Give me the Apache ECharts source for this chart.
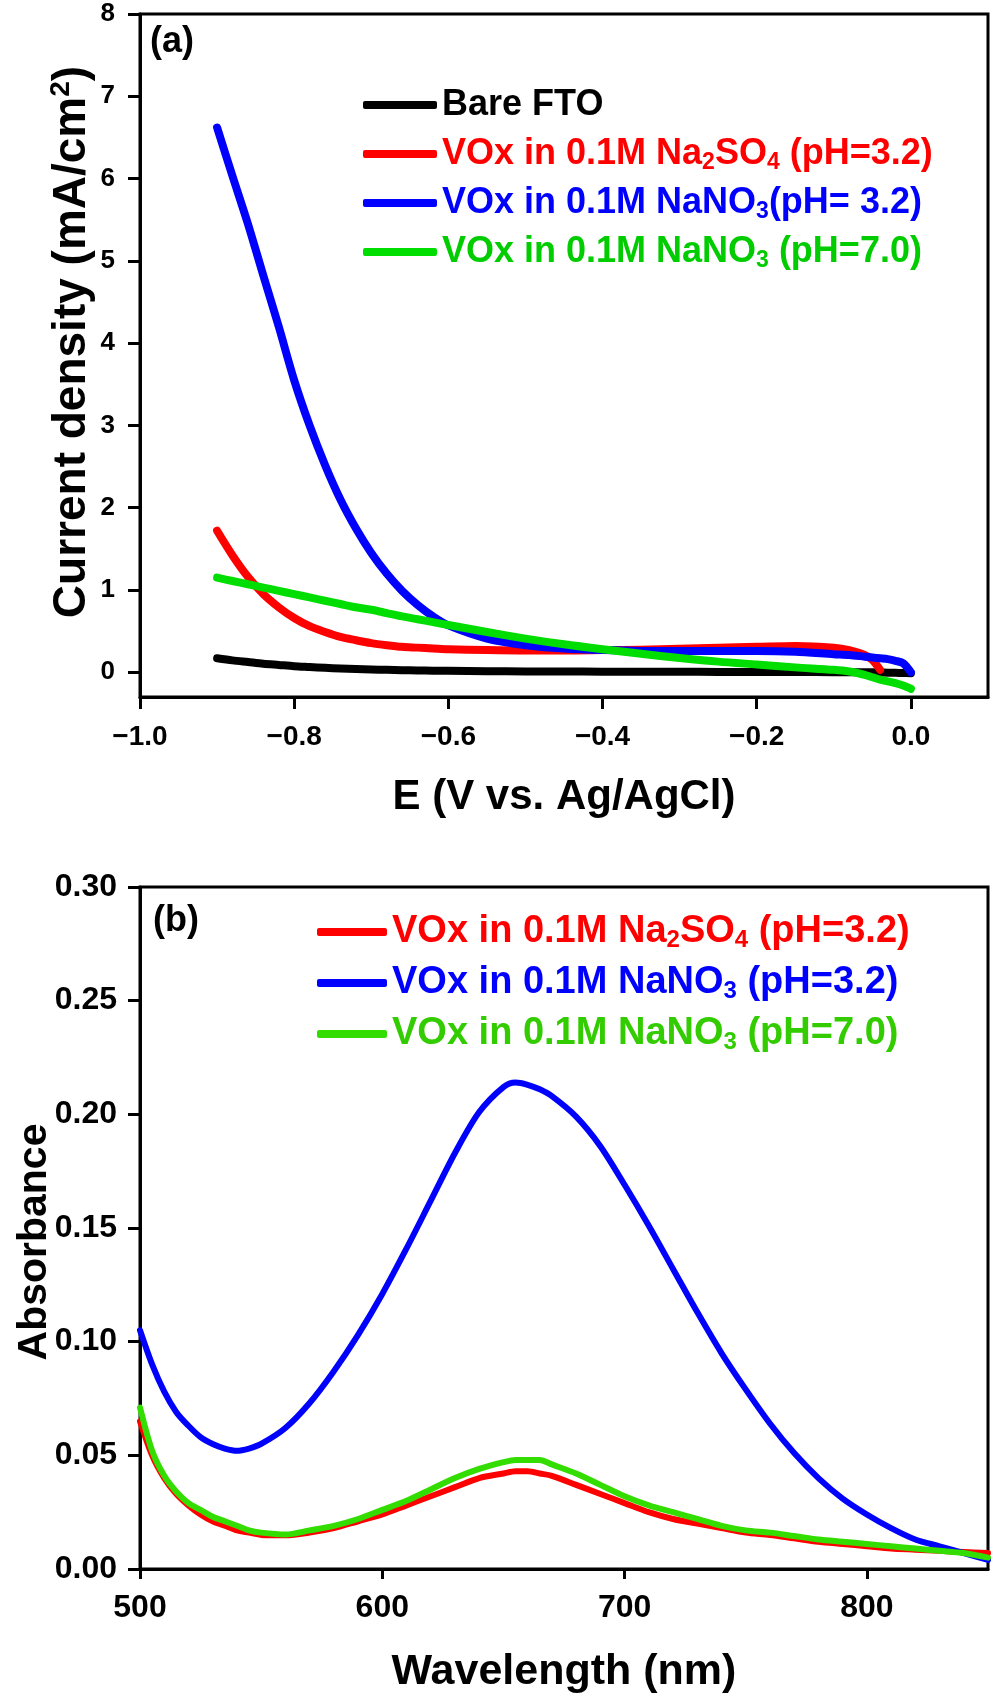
<!DOCTYPE html>
<html>
<head>
<meta charset="utf-8">
<script src="https://cdn.jsdelivr.net/npm/echarts@6/dist/echarts.min.js"></script>
<style>
html, body { margin: 0; padding: 0; background: #fff; }
#chart { width: 994px; height: 1697px; }
</style>
</head>
<body>
<div id="chart"></div>
<script>
// (a) LSV curves, potential in V vs Ag/AgCl, current density in mA/cm2
var potential = [-0.90, -0.88, -0.86, -0.84, -0.82, -0.80, -0.78, -0.76, -0.74, -0.72, -0.70, -0.68, -0.66, -0.64, -0.62, -0.60,
  -0.55, -0.50, -0.45, -0.40, -0.35, -0.30, -0.25, -0.20, -0.15, -0.10, -0.08, -0.06, -0.05, -0.04, -0.03, -0.02, -0.01, 0.00];
var bareFTO = [0.17, 0.145, 0.125, 0.105, 0.09, 0.075, 0.065, 0.055, 0.047, 0.04, 0.035, 0.03, 0.026, 0.023, 0.02, 0.018,
  0.014, 0.011, 0.009, 0.008, 0.007, 0.006, 0.005, 0.004, 0.003, 0.002, 0.001, 0.0, 0.0, -0.002, -0.004, -0.006, -0.008, -0.01];
var vNa2SO4 = [1.72, 1.42, 1.16, 0.95, 0.79, 0.66, 0.56, 0.49, 0.43, 0.39, 0.355, 0.33, 0.31, 0.30, 0.29, 0.28,
  0.27, 0.265, 0.265, 0.27, 0.275, 0.285, 0.30, 0.31, 0.32, 0.30, 0.27, 0.21, 0.15, 0.03, null, null, null, null];
var vNaNO3 = [6.62, 6.03, 5.45, 4.82, 4.2, 3.55, 3.0, 2.52, 2.1, 1.75, 1.45, 1.2, 0.99, 0.82, 0.68, 0.57,
  0.41, 0.33, 0.29, 0.27, 0.26, 0.26, 0.26, 0.26, 0.25, 0.22, 0.21, 0.19, 0.18, 0.17, 0.16, 0.14, 0.11, 0.0];
var vNaNO3pH7 = [1.15, 1.11, 1.07, 1.03, 0.99, 0.95, 0.91, 0.87, 0.83, 0.79, 0.76, 0.72, 0.68, 0.645, 0.61, 0.575,
  0.49, 0.41, 0.34, 0.28, 0.225, 0.175, 0.13, 0.095, 0.06, 0.03, 0.01, -0.03, -0.06, -0.09, -0.11, -0.13, -0.16, -0.2];
var potentialTicks = [-1.0, -0.8, -0.6, -0.4, -0.2, 0.0];
var currentTicks = [0, 1, 2, 3, 4, 5, 6, 7, 8];

// (b) UV-vis absorbance
var wavelength = [500, 505, 510, 515, 520, 525, 530, 535, 540, 545, 550, 560, 570, 580, 590, 600, 610, 620, 630, 640,
  650, 655, 660, 665, 670, 680, 690, 700, 710, 720, 730, 740, 750, 760, 770, 780, 790, 800, 810, 820, 830, 840, 850];
var absNa2SO4 = [0.065, 0.050, 0.040, 0.033, 0.028, 0.024, 0.021, 0.019, 0.017, 0.016, 0.015, 0.0148, 0.016, 0.018, 0.021, 0.024, 0.028, 0.032, 0.036, 0.040,
  0.042, 0.043, 0.043, 0.042, 0.041, 0.037, 0.033, 0.029, 0.025, 0.022, 0.020, 0.018, 0.016, 0.015, 0.0135, 0.012, 0.011, 0.010, 0.009, 0.0085, 0.008, 0.0075, 0.007];
var absNaNO3 = [0.105, 0.090, 0.078, 0.069, 0.063, 0.058, 0.055, 0.053, 0.052, 0.053, 0.055, 0.062, 0.073, 0.087, 0.103, 0.121, 0.141, 0.162, 0.183, 0.201,
  0.212, 0.214, 0.213, 0.211, 0.208, 0.199, 0.186, 0.169, 0.151, 0.132, 0.113, 0.095, 0.079, 0.064, 0.051, 0.040, 0.031, 0.024, 0.018, 0.013, 0.010, 0.007, 0.004];
var absNaNO3pH7 = [0.071, 0.052, 0.041, 0.034, 0.029, 0.026, 0.023, 0.021, 0.019, 0.017, 0.016, 0.0152, 0.017, 0.019, 0.022, 0.026, 0.030, 0.035, 0.040, 0.044,
  0.047, 0.048, 0.048, 0.048, 0.046, 0.042, 0.037, 0.032, 0.028, 0.025, 0.022, 0.019, 0.017, 0.016, 0.0145, 0.013, 0.012, 0.011, 0.010, 0.009, 0.008, 0.007, 0.005];
var wavelengthTicks = [500, 600, 700, 800];
var absTicks = [0, 0.05, 0.10, 0.15, 0.20, 0.25, 0.30];

var FONT = '"Liberation Sans", Arial, sans-serif';

function pairs(xs, ys) {
  var out = [];
  for (var i = 0; i < xs.length; i++) {
    if (ys[i] !== null) out.push([xs[i], ys[i]]);
  }
  return out;
}

function minusFmt(v) {
  return (v < -1e-9 ? '\u2212' : '') + Math.abs(v).toFixed(1);
}

function txt(color, size, lh, sub) {
  var s = { color: color, fontSize: size, fontWeight: 'bold', fontFamily: FONT, lineHeight: lh };
  if (sub) s.verticalAlign = sub;
  return s;
}

// legend text with subscripts
var legendRich = {
  k: txt('#000000', 36, 40),
  r: txt('#ff0000', 36, 40), rs: txt('#ff0000', 23, 23, 'bottom'),
  b: txt('#0000ff', 36, 40), bs: txt('#0000ff', 23, 23, 'bottom'),
  g: txt('#00cc00', 36, 40), gs: txt('#00cc00', 23, 23, 'bottom'),
  R: txt('#ff0000', 38, 40), Rs: txt('#ff0000', 24, 24, 'bottom'),
  B: txt('#0000ff', 38, 40), Bs: txt('#0000ff', 24, 24, 'bottom'),
  H: txt('#33cc00', 38, 40), Hs: txt('#33cc00', 24, 24, 'bottom')
};
var legendText = {
  'Bare FTO': '{k|Bare FTO}',
  'VOx in 0.1M Na2SO4 (pH=3.2)': '{r|VOx in 0.1M Na}{rs|2}{r|SO}{rs|4}{r| (pH=3.2)}',
  'VOx in 0.1M NaNO3(pH= 3.2)': '{b|VOx in 0.1M NaNO}{bs|3}{b|(pH= 3.2)}',
  'VOx in 0.1M NaNO3 (pH=7.0)': '{g|VOx in 0.1M NaNO}{gs|3}{g| (pH=7.0)}',
  'VOx in 0.1M Na2SO4 (pH=3.2) ': '{R|VOx in 0.1M Na}{Rs|2}{R|SO}{Rs|4}{R| (pH=3.2)}',
  'VOx in 0.1M NaNO3 (pH=3.2)': '{B|VOx in 0.1M NaNO}{Bs|3}{B| (pH=3.2)}',
  'VOx in 0.1M NaNO3 (pH=7.0) ': '{H|VOx in 0.1M NaNO}{Hs|3}{H| (pH=7.0)}'
};

function axisBase() {
  return {
    axisLine: { show: true, onZero: false, lineStyle: { color: '#000', width: 3 } },
    splitLine: { show: false },
    nameTextStyle: { color: '#000', fontSize: 42, fontWeight: 'bold', fontFamily: FONT }
  };
}

function lineSeries(name, xi, yi, data, color, width) {
  return {
    name: name, type: 'line', xAxisIndex: xi, yAxisIndex: yi,
    data: data, showSymbol: false, symbol: 'none', smooth: 0.3,
    lineStyle: { color: color, width: width, cap: 'round', join: 'round' },
    itemStyle: { color: color }
  };
}

var chart = echarts.init(document.getElementById('chart'));

var option = {
  animation: false,
  backgroundColor: '#ffffff',
  grid: [
    { left: 140, top: 14, width: 848, height: 683, show: true, borderColor: '#000', borderWidth: 3, backgroundColor: 'transparent' },
    { left: 140, top: 887, width: 848, height: 682, show: true, borderColor: '#000', borderWidth: 3, backgroundColor: 'transparent' }
  ],
  xAxis: [
    Object.assign(axisBase(), {
      gridIndex: 0, type: 'value', min: -1.0, max: 0.1,
      axisTick: { show: true, inside: false, length: 12, customValues: potentialTicks, lineStyle: { color: '#000', width: 3 } },
      axisLabel: { customValues: potentialTicks, formatter: minusFmt, color: '#000', fontSize: 28, fontWeight: 'bold', fontFamily: FONT, margin: 26 },
      name: 'E (V vs. Ag/AgCl)', nameLocation: 'middle', nameGap: 79
    }),
    Object.assign(axisBase(), {
      gridIndex: 1, type: 'value', min: 500, max: 850,
      axisTick: { show: true, inside: false, length: 10, customValues: wavelengthTicks, lineStyle: { color: '#000', width: 3 } },
      axisLabel: { customValues: wavelengthTicks, color: '#000', fontSize: 32, fontWeight: 'bold', fontFamily: FONT, margin: 23 },
      name: 'Wavelength (nm)', nameLocation: 'middle', nameGap: 82,
      nameTextStyle: { color: '#000', fontSize: 43, fontWeight: 'bold', fontFamily: FONT }
    })
  ],
  yAxis: [
    Object.assign(axisBase(), {
      gridIndex: 0, type: 'value', min: -0.3, max: 8,
      axisTick: { show: true, inside: false, length: 12, customValues: currentTicks, lineStyle: { color: '#000', width: 3 } },
      axisLabel: { customValues: currentTicks, formatter: function (v) { return String(Math.round(v)); }, color: '#000', fontSize: 26, fontWeight: 'bold', fontFamily: FONT, margin: 25 }
    }),
    Object.assign(axisBase(), {
      gridIndex: 1, type: 'value', min: 0, max: 0.3,
      axisTick: { show: true, inside: false, length: 12, customValues: absTicks, lineStyle: { color: '#000', width: 3 } },
      axisLabel: { customValues: absTicks, formatter: function (v) { return v.toFixed(2); }, color: '#000', fontSize: 32, fontWeight: 'bold', fontFamily: FONT, margin: 23 }
    })
  ],
  legend: [
    {
      orient: 'vertical', left: 358, top: 80, padding: 5,
      itemWidth: 74, itemHeight: 8, itemGap: 9, icon: 'roundRect',
      textStyle: { fontSize: 36, fontWeight: 'bold', fontFamily: FONT, lineHeight: 40, rich: legendRich },
      formatter: function (name) { return legendText[name] || name; },
      data: [
        { name: 'Bare FTO', itemStyle: { color: '#000000' } },
        { name: 'VOx in 0.1M Na2SO4 (pH=3.2)', itemStyle: { color: '#ff0000' } },
        { name: 'VOx in 0.1M NaNO3(pH= 3.2)', itemStyle: { color: '#0000ff' } },
        { name: 'VOx in 0.1M NaNO3 (pH=7.0)', itemStyle: { color: '#00dd00' } }
      ]
    },
    {
      orient: 'vertical', left: 312, top: 907, padding: 5,
      itemWidth: 70, itemHeight: 8, itemGap: 11, icon: 'roundRect',
      textStyle: { fontSize: 38, fontWeight: 'bold', fontFamily: FONT, lineHeight: 40, rich: legendRich },
      formatter: function (name) { return legendText[name] || name; },
      data: [
        { name: 'VOx in 0.1M Na2SO4 (pH=3.2) ', itemStyle: { color: '#ff0000' } },
        { name: 'VOx in 0.1M NaNO3 (pH=3.2)', itemStyle: { color: '#0000ff' } },
        { name: 'VOx in 0.1M NaNO3 (pH=7.0) ', itemStyle: { color: '#33dd00' } }
      ]
    }
  ],
  graphic: [
    { type: 'text', left: 150, top: 24, style: { text: '(a)', font: 'bold 36px "Liberation Sans", Arial, sans-serif', fill: '#000' } },
    { type: 'text', left: 153, top: 903, style: { text: '(b)', font: 'bold 36px "Liberation Sans", Arial, sans-serif', fill: '#000' } },
    {
      type: 'text', x: 72, y: 342, rotation: Math.PI / 2,
      style: {
        text: '{t|Current density (mA/cm}{s|2}{t|)}', align: 'center', verticalAlign: 'middle',
        rich: {
          t: { fontSize: 46, fontWeight: 'bold', fontFamily: FONT, fill: '#000', lineHeight: 50 },
          s: { fontSize: 28, fontWeight: 'bold', fontFamily: FONT, fill: '#000', lineHeight: 28, verticalAlign: 'top' }
        }
      }
    },
    {
      type: 'text', x: 35, y: 1242, rotation: Math.PI / 2,
      style: { text: 'Absorbance', align: 'center', verticalAlign: 'middle', font: 'bold 41px "Liberation Sans", Arial, sans-serif', fill: '#000' }
    }
  ],
  series: [
    lineSeries('Bare FTO', 0, 0, pairs(potential, bareFTO), '#000000', 8),
    lineSeries('VOx in 0.1M Na2SO4 (pH=3.2)', 0, 0, pairs(potential, vNa2SO4), '#ff0000', 8),
    lineSeries('VOx in 0.1M NaNO3(pH= 3.2)', 0, 0, pairs(potential, vNaNO3), '#0000ff', 8),
    lineSeries('VOx in 0.1M NaNO3 (pH=7.0)', 0, 0, pairs(potential, vNaNO3pH7), '#00dd00', 8),
    lineSeries('VOx in 0.1M Na2SO4 (pH=3.2) ', 1, 1, pairs(wavelength, absNa2SO4), '#ff0000', 6),
    lineSeries('VOx in 0.1M NaNO3 (pH=3.2)', 1, 1, pairs(wavelength, absNaNO3), '#0000ff', 6),
    lineSeries('VOx in 0.1M NaNO3 (pH=7.0) ', 1, 1, pairs(wavelength, absNaNO3pH7), '#33dd00', 6)
  ]
};

chart.setOption(option);
</script>
</body>
</html>
